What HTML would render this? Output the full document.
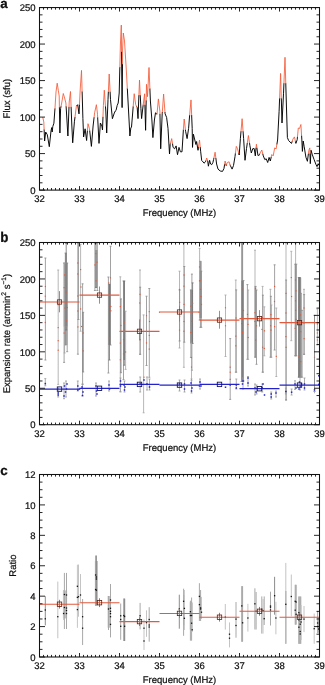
<!DOCTYPE html>
<html><head><meta charset="utf-8"><title>Figure</title>
<style>html,body{margin:0;padding:0;background:#fff;}svg{display:block;}text{stroke:#111;stroke-width:0.22px;}</style>
</head><body>
<svg width="325" height="685" viewBox="0 0 325 685" font-family='"Liberation Sans", Arial, Helvetica, sans-serif' font-size="9.5" fill="#111" text-rendering="geometricPrecision">
<text x="0.3" y="7.6" font-weight="bold" font-size="13.4">a</text>
<text transform="translate(0.3 241.8) scale(1 1.06)" font-weight="bold" font-size="13.4">b</text>
<text x="0.3" y="474.8" font-weight="bold" font-size="13.4">c</text>
<polyline points="44.11,129.41 44.6,141 45.7,132 47.3,134.7 49.3,146.7 51,131 51.7,127.6 52.2,132 52.8,126.5 53.9,123.2 54.97,108.41" fill="none" stroke="#000" stroke-width="0.95" stroke-linejoin="round" />
<polyline points="59.41,107.1 59.9,133 60.6,108.6 61.06,106.25" fill="none" stroke="#000" stroke-width="0.95" stroke-linejoin="round" />
<polyline points="66.1,106.25 67.9,136 69.01,106.89" fill="none" stroke="#000" stroke-width="0.95" stroke-linejoin="round" />
<polyline points="71.1,106.89 71.8,125 72.7,142.8 74.4,121.8 75,117.04" fill="none" stroke="#000" stroke-width="0.95" stroke-linejoin="round" />
<polyline points="76.4,106 77.7,104.7 79,113.9 79.47,104.44" fill="none" stroke="#000" stroke-width="0.95" stroke-linejoin="round" />
<polyline points="82.11,91.43 82.9,118.6 83.6,137 85.1,128.8 86.6,140.5 87.43,130.51" fill="none" stroke="#000" stroke-width="0.95" stroke-linejoin="round" />
<polyline points="89.68,130.51 91.4,146.4 93.1,126 94.1,117.21" fill="none" stroke="#000" stroke-width="0.95" stroke-linejoin="round" />
<polyline points="97.65,117.21 99,143.4 100.4,123 101.9,126 102.5,130 102.98,116.87" fill="none" stroke="#000" stroke-width="0.95" stroke-linejoin="round" />
<polyline points="105.45,106.16 105.8,111 106.7,133 108,99.7 108.37,91.7" fill="none" stroke="#000" stroke-width="0.95" stroke-linejoin="round" />
<polyline points="110.1,91.7 110.5,99.7 112.4,118.7 114.3,113 115.3,111 116,110.5 117.2,105.4 118.2,103 119.2,93 119.85,67.11" fill="none" stroke="#000" stroke-width="0.95" stroke-linejoin="round" />
<polyline points="121.56,51.47 122.1,107.6 122.47,63.9" fill="none" stroke="#000" stroke-width="0.95" stroke-linejoin="round" />
<polyline points="127.32,88.4 128.4,108 129.9,136 130.8,128 131.5,127 132.5,115 133.19,106.39" fill="none" stroke="#000" stroke-width="0.95" stroke-linejoin="round" />
<polyline points="136.57,106.39 137.2,107.6 138,118.6 138.91,95.09" fill="none" stroke="#000" stroke-width="0.95" stroke-linejoin="round" />
<polyline points="140.24,95.09 140.9,108.4 141.6,118.6 143.1,105.5 143.2,104.75" fill="none" stroke="#000" stroke-width="0.95" stroke-linejoin="round" />
<polyline points="144.9,104.75 145.6,130.3 146.19,100.29" fill="none" stroke="#000" stroke-width="0.95" stroke-linejoin="round" />
<polyline points="149.88,88.53 150.4,101 151.9,120 152.9,137.6 154.4,120 155.5,112.8 157,114.2 157.03,113.87" fill="none" stroke="#000" stroke-width="0.95" stroke-linejoin="round" />
<polyline points="159.95,113.87 160.7,148.8 162.2,113.8 162.33,112" fill="none" stroke="#000" stroke-width="0.95" stroke-linejoin="round" />
<polyline points="164.96,112 165.1,113.8 166.6,117.4 168,128.4 169.5,154 170.2,144.5 170.47,143.43" fill="none" stroke="#000" stroke-width="0.95" stroke-linejoin="round" />
<polyline points="172.47,143.43 173.1,147.4 174.6,148.8 176.1,145.9 177.5,154.7 179,147.4 180.4,151.8 182,151.8 183.39,129.71" fill="none" stroke="#000" stroke-width="0.95" stroke-linejoin="round" />
<polyline points="185.42,129.71 185.6,131.3 187.1,138.6 188.6,128.4 189.67,115.02" fill="none" stroke="#000" stroke-width="0.95" stroke-linejoin="round" />
<polyline points="191.64,115.02 192.2,128.4 192.5,147.4 193.4,134.2 194.8,140 195.9,144.5 196.6,141.5 198,150.3 198.49,146.96" fill="none" stroke="#000" stroke-width="0.95" stroke-linejoin="round" />
<polyline points="200.21,146.96 200.7,151.8 201.7,160.5 203.2,162 204,163.2 205.5,161.8 205.92,160.46" fill="none" stroke="#000" stroke-width="0.95" stroke-linejoin="round" />
<polyline points="207.52,160.46 207.7,161 208.4,166.2 209.6,160.3 210.6,164 211.7,164.7 212.9,162.5 213.6,159.5 213.92,157.96" fill="none" stroke="#000" stroke-width="0.95" stroke-linejoin="round" />
<polyline points="215.83,157.96 216.6,164 218,169.1 220.2,171 222.5,171.4 224,168.4 224.64,164.12" fill="none" stroke="#000" stroke-width="0.95" stroke-linejoin="round" />
<polyline points="225.86,164.12 226.2,165.5 226.5,164.68" fill="none" stroke="#000" stroke-width="0.95" stroke-linejoin="round" />
<polyline points="230.03,164.68 230.3,165.5 232.1,169.1 233.5,165.5 235,156.6 235.43,153.21" fill="none" stroke="#000" stroke-width="0.95" stroke-linejoin="round" />
<polyline points="238.72,153.21 239.2,155 240.4,138.4 241.02,131.18" fill="none" stroke="#000" stroke-width="0.95" stroke-linejoin="round" />
<polyline points="243.05,131.18 243.6,138.4 245,160.3 246.5,148.6 247.32,142.94" fill="none" stroke="#000" stroke-width="0.95" stroke-linejoin="round" />
<polyline points="249.49,142.94 249.9,145.7 251.3,153 252.8,148.6 254.2,148.6 255.3,155.9 256.07,147.71" fill="none" stroke="#000" stroke-width="0.95" stroke-linejoin="round" />
<polyline points="256.88,147.71 257.9,155.2 258.6,155.9 259.71,153.75" fill="none" stroke="#000" stroke-width="0.95" stroke-linejoin="round" />
<polyline points="262.75,153.75 263.3,155.9 264.8,159.6 266.2,158.8 267.7,162.5 269.1,157.4 270.3,161 271.25,156.9" fill="none" stroke="#000" stroke-width="0.95" stroke-linejoin="round" />
<polyline points="276.85,144.5 277.6,140 279.1,111.3 279.62,98.15" fill="none" stroke="#000" stroke-width="0.95" stroke-linejoin="round" />
<polyline points="281.3,98.15 282,123 283.5,93.8 283.94,83.13" fill="none" stroke="#000" stroke-width="0.95" stroke-linejoin="round" />
<polyline points="285.76,83.13 286.4,105 287.4,137.6 288.6,140.5 290,142 291.5,143.4 292.23,141.25" fill="none" stroke="#000" stroke-width="0.95" stroke-linejoin="round" />
<polyline points="295.4,141.25 295.9,143.4 297.2,139.7 297.48,136.76" fill="none" stroke="#000" stroke-width="0.95" stroke-linejoin="round" />
<polyline points="301.58,135.54 301.8,139.1 302.4,151.4 303.2,141 304.2,146.7 305.9,157.2 307.4,161.3 308.45,153.51" fill="none" stroke="#000" stroke-width="0.95" stroke-linejoin="round" />
<polyline points="309.98,153.51 310.3,163.7 311,150.2 312.4,154.9 314.1,159.6 315.9,164.3 317,166.6 318.2,163.7 318.8,165.4" fill="none" stroke="#000" stroke-width="0.95" stroke-linejoin="round" />
<polyline points="42.8,117.4 43.8,122 44.11,129.41" fill="none" stroke="#f45a38" stroke-width="0.85" stroke-linejoin="round" stroke-linecap="round"/>
<polyline points="54.97,108.41 55,108 56,92 57.2,83.2 58.3,90.3 59.2,96 59.41,107.1" fill="none" stroke="#f45a38" stroke-width="0.85" stroke-linejoin="round" stroke-linecap="round"/>
<polyline points="61.06,106.25 61.7,103 63.3,93.5 64.6,98 65.9,103 66.1,106.25" fill="none" stroke="#f45a38" stroke-width="0.85" stroke-linejoin="round" stroke-linecap="round"/>
<polyline points="69.01,106.89 69.2,102 70.5,91.5 71.1,106.89" fill="none" stroke="#f45a38" stroke-width="0.85" stroke-linejoin="round" stroke-linecap="round"/>
<polyline points="75,117.04 76.4,106" fill="none" stroke="#f45a38" stroke-width="0.85" stroke-linejoin="round" stroke-linecap="round"/>
<polyline points="79.47,104.44 80.3,88 81.5,70.4 82.11,91.43" fill="none" stroke="#f45a38" stroke-width="0.85" stroke-linejoin="round" stroke-linecap="round"/>
<polyline points="87.43,130.51 88,123.7 89.5,128.8 89.68,130.51" fill="none" stroke="#f45a38" stroke-width="0.85" stroke-linejoin="round" stroke-linecap="round"/>
<polyline points="94.1,117.21 94.6,112.8 96.4,104.7 97.5,114.2 97.65,117.21" fill="none" stroke="#f45a38" stroke-width="0.85" stroke-linejoin="round" stroke-linecap="round"/>
<polyline points="102.98,116.87 103.4,105.5 104.3,90.2 105.45,106.16" fill="none" stroke="#f45a38" stroke-width="0.85" stroke-linejoin="round" stroke-linecap="round"/>
<polyline points="108.37,91.7 109.2,74 110.1,91.7" fill="none" stroke="#f45a38" stroke-width="0.85" stroke-linejoin="round" stroke-linecap="round"/>
<polyline points="119.85,67.11 120.4,45 121.3,25.1 121.56,51.47" fill="none" stroke="#f45a38" stroke-width="0.85" stroke-linejoin="round" stroke-linecap="round"/>
<polyline points="122.47,63.9 122.6,49 123.3,33 124.5,41 126.2,68 127.32,88.4" fill="none" stroke="#f45a38" stroke-width="0.85" stroke-linejoin="round" stroke-linecap="round"/>
<polyline points="133.19,106.39 134.2,93.7 135.7,104.7 136.57,106.39" fill="none" stroke="#f45a38" stroke-width="0.85" stroke-linejoin="round" stroke-linecap="round"/>
<polyline points="138.91,95.09 139.5,80 140.24,95.09" fill="none" stroke="#f45a38" stroke-width="0.85" stroke-linejoin="round" stroke-linecap="round"/>
<polyline points="143.2,104.75 144.6,93.8 144.9,104.75" fill="none" stroke="#f45a38" stroke-width="0.85" stroke-linejoin="round" stroke-linecap="round"/>
<polyline points="146.19,100.29 146.5,84.3 147.5,96.7 149,67.5 149.88,88.53" fill="none" stroke="#f45a38" stroke-width="0.85" stroke-linejoin="round" stroke-linecap="round"/>
<polyline points="157.03,113.87 158.4,98.9 159.9,111.3 159.95,113.87" fill="none" stroke="#f45a38" stroke-width="0.85" stroke-linejoin="round" stroke-linecap="round"/>
<polyline points="162.33,112 163.6,94 164.96,112" fill="none" stroke="#f45a38" stroke-width="0.85" stroke-linejoin="round" stroke-linecap="round"/>
<polyline points="170.47,143.43 171.7,138.6 172.47,143.43" fill="none" stroke="#f45a38" stroke-width="0.85" stroke-linejoin="round" stroke-linecap="round"/>
<polyline points="183.39,129.71 183.5,128 184.2,119 185.42,129.71" fill="none" stroke="#f45a38" stroke-width="0.85" stroke-linejoin="round" stroke-linecap="round"/>
<polyline points="189.67,115.02 190,110.9 191,99.9 191.64,115.02" fill="none" stroke="#f45a38" stroke-width="0.85" stroke-linejoin="round" stroke-linecap="round"/>
<polyline points="198.49,146.96 199.5,140 200.21,146.96" fill="none" stroke="#f45a38" stroke-width="0.85" stroke-linejoin="round" stroke-linecap="round"/>
<polyline points="205.92,160.46 206.7,158 207.52,160.46" fill="none" stroke="#f45a38" stroke-width="0.85" stroke-linejoin="round" stroke-linecap="round"/>
<polyline points="213.92,157.96 215.1,152.2 215.83,157.96" fill="none" stroke="#f45a38" stroke-width="0.85" stroke-linejoin="round" stroke-linecap="round"/>
<polyline points="224.64,164.12 225.1,161 225.86,164.12" fill="none" stroke="#f45a38" stroke-width="0.85" stroke-linejoin="round" stroke-linecap="round"/>
<polyline points="226.5,164.68 227.3,162.5 229.1,161.8 230.03,164.68" fill="none" stroke="#f45a38" stroke-width="0.85" stroke-linejoin="round" stroke-linecap="round"/>
<polyline points="235.43,153.21 236.3,146.4 237.5,148.6 238.72,153.21" fill="none" stroke="#f45a38" stroke-width="0.85" stroke-linejoin="round" stroke-linecap="round"/>
<polyline points="241.02,131.18 242.1,118.7 243.05,131.18" fill="none" stroke="#f45a38" stroke-width="0.85" stroke-linejoin="round" stroke-linecap="round"/>
<polyline points="247.32,142.94 248.4,135.5 249.49,142.94" fill="none" stroke="#f45a38" stroke-width="0.85" stroke-linejoin="round" stroke-linecap="round"/>
<polyline points="256.07,147.71 256.4,144.2 256.88,147.71" fill="none" stroke="#f45a38" stroke-width="0.85" stroke-linejoin="round" stroke-linecap="round"/>
<polyline points="259.71,153.75 260.1,153 261.8,150 262.75,153.75" fill="none" stroke="#f45a38" stroke-width="0.85" stroke-linejoin="round" stroke-linecap="round"/>
<polyline points="271.25,156.9 271.8,154.5 273.2,155.9 274.7,147.9 276.1,149 276.85,144.5" fill="none" stroke="#f45a38" stroke-width="0.85" stroke-linejoin="round" stroke-linecap="round"/>
<polyline points="279.62,98.15 280.6,73.4 281.3,98.15" fill="none" stroke="#f45a38" stroke-width="0.85" stroke-linejoin="round" stroke-linecap="round"/>
<polyline points="283.94,83.13 285,57.3 285.76,83.13" fill="none" stroke="#f45a38" stroke-width="0.85" stroke-linejoin="round" stroke-linecap="round"/>
<polyline points="292.23,141.25 293,139 294.4,136.9 295.4,141.25" fill="none" stroke="#f45a38" stroke-width="0.85" stroke-linejoin="round" stroke-linecap="round"/>
<polyline points="297.48,136.76 298.3,128 299.5,128.6 300.9,124.5 301.58,135.54" fill="none" stroke="#f45a38" stroke-width="0.85" stroke-linejoin="round" stroke-linecap="round"/>
<polyline points="308.45,153.51 308.9,150.2 309.8,147.9 309.98,153.51" fill="none" stroke="#f45a38" stroke-width="0.85" stroke-linejoin="round" stroke-linecap="round"/>
<path d="M39.5 190.1v-4M39.5 7.55v4M43.5 190.1v-2.1M43.5 7.55v2.1M47.5 190.1v-2.1M47.5 7.55v2.1M51.5 190.1v-2.1M51.5 7.55v2.1M55.5 190.1v-2.1M55.5 7.55v2.1M59.5 190.1v-2.1M59.5 7.55v2.1M63.5 190.1v-2.1M63.5 7.55v2.1M67.5 190.1v-2.1M67.5 7.55v2.1M71.5 190.1v-2.1M71.5 7.55v2.1M75.5 190.1v-2.1M75.5 7.55v2.1M79.5 190.1v-4M79.5 7.55v4M83.5 190.1v-2.1M83.5 7.55v2.1M87.5 190.1v-2.1M87.5 7.55v2.1M91.5 190.1v-2.1M91.5 7.55v2.1M95.5 190.1v-2.1M95.5 7.55v2.1M99.5 190.1v-2.1M99.5 7.55v2.1M103.5 190.1v-2.1M103.5 7.55v2.1M107.5 190.1v-2.1M107.5 7.55v2.1M111.5 190.1v-2.1M111.5 7.55v2.1M115.5 190.1v-2.1M115.5 7.55v2.1M119.5 190.1v-4M119.5 7.55v4M123.5 190.1v-2.1M123.5 7.55v2.1M127.5 190.1v-2.1M127.5 7.55v2.1M131.5 190.1v-2.1M131.5 7.55v2.1M135.5 190.1v-2.1M135.5 7.55v2.1M139.5 190.1v-2.1M139.5 7.55v2.1M143.5 190.1v-2.1M143.5 7.55v2.1M147.5 190.1v-2.1M147.5 7.55v2.1M151.5 190.1v-2.1M151.5 7.55v2.1M155.5 190.1v-2.1M155.5 7.55v2.1M159.5 190.1v-4M159.5 7.55v4M163.5 190.1v-2.1M163.5 7.55v2.1M167.5 190.1v-2.1M167.5 7.55v2.1M171.5 190.1v-2.1M171.5 7.55v2.1M175.5 190.1v-2.1M175.5 7.55v2.1M179.5 190.1v-2.1M179.5 7.55v2.1M183.5 190.1v-2.1M183.5 7.55v2.1M187.5 190.1v-2.1M187.5 7.55v2.1M191.5 190.1v-2.1M191.5 7.55v2.1M195.5 190.1v-2.1M195.5 7.55v2.1M199.5 190.1v-4M199.5 7.55v4M203.5 190.1v-2.1M203.5 7.55v2.1M207.5 190.1v-2.1M207.5 7.55v2.1M211.5 190.1v-2.1M211.5 7.55v2.1M215.5 190.1v-2.1M215.5 7.55v2.1M219.5 190.1v-2.1M219.5 7.55v2.1M223.5 190.1v-2.1M223.5 7.55v2.1M227.5 190.1v-2.1M227.5 7.55v2.1M231.5 190.1v-2.1M231.5 7.55v2.1M235.5 190.1v-2.1M235.5 7.55v2.1M239.5 190.1v-4M239.5 7.55v4M243.5 190.1v-2.1M243.5 7.55v2.1M247.5 190.1v-2.1M247.5 7.55v2.1M251.5 190.1v-2.1M251.5 7.55v2.1M255.5 190.1v-2.1M255.5 7.55v2.1M259.5 190.1v-2.1M259.5 7.55v2.1M263.5 190.1v-2.1M263.5 7.55v2.1M267.5 190.1v-2.1M267.5 7.55v2.1M271.5 190.1v-2.1M271.5 7.55v2.1M275.5 190.1v-2.1M275.5 7.55v2.1M279.5 190.1v-4M279.5 7.55v4M283.5 190.1v-2.1M283.5 7.55v2.1M287.5 190.1v-2.1M287.5 7.55v2.1M291.5 190.1v-2.1M291.5 7.55v2.1M295.5 190.1v-2.1M295.5 7.55v2.1M299.5 190.1v-2.1M299.5 7.55v2.1M303.5 190.1v-2.1M303.5 7.55v2.1M307.5 190.1v-2.1M307.5 7.55v2.1M311.5 190.1v-2.1M311.5 7.55v2.1M315.5 190.1v-2.1M315.5 7.55v2.1M319.5 190.1v-4M319.5 7.55v4M39.5 190.1h5.5M319.5 190.1h-5.5M39.5 182.8h3M319.5 182.8h-3M39.5 175.5h3M319.5 175.5h-3M39.5 168.19h3M319.5 168.19h-3M39.5 160.89h3M319.5 160.89h-3M39.5 153.59h5.5M319.5 153.59h-5.5M39.5 146.29h3M319.5 146.29h-3M39.5 138.99h3M319.5 138.99h-3M39.5 131.68h3M319.5 131.68h-3M39.5 124.38h3M319.5 124.38h-3M39.5 117.08h5.5M319.5 117.08h-5.5M39.5 109.78h3M319.5 109.78h-3M39.5 102.48h3M319.5 102.48h-3M39.5 95.17h3M319.5 95.17h-3M39.5 87.87h3M319.5 87.87h-3M39.5 80.57h5.5M319.5 80.57h-5.5M39.5 73.27h3M319.5 73.27h-3M39.5 65.97h3M319.5 65.97h-3M39.5 58.66h3M319.5 58.66h-3M39.5 51.36h3M319.5 51.36h-3M39.5 44.06h5.5M319.5 44.06h-5.5M39.5 36.76h3M319.5 36.76h-3M39.5 29.46h3M319.5 29.46h-3M39.5 22.15h3M319.5 22.15h-3M39.5 14.85h3M319.5 14.85h-3M39.5 7.55h5.5M319.5 7.55h-5.5" stroke="#111" stroke-width="0.9" fill="none"/>
<rect x="39.5" y="7.55" width="280" height="182.55" fill="none" stroke="#111" stroke-width="1.05"/>
<text transform="translate(35.6 193.8) scale(1 1.02)" text-anchor="end">0</text>
<text transform="translate(35.6 157.29) scale(1 1.02)" text-anchor="end">50</text>
<text transform="translate(35.6 120.78) scale(1 1.02)" text-anchor="end">100</text>
<text transform="translate(35.6 84.27) scale(1 1.02)" text-anchor="end">150</text>
<text transform="translate(35.6 47.76) scale(1 1.02)" text-anchor="end">200</text>
<text transform="translate(35.6 11.25) scale(1 1.02)" text-anchor="end">250</text>
<text transform="translate(39.5 202) scale(1 1.02)" text-anchor="middle">32</text>
<text transform="translate(79.5 202) scale(1 1.02)" text-anchor="middle">33</text>
<text transform="translate(119.5 202) scale(1 1.02)" text-anchor="middle">34</text>
<text transform="translate(159.5 202) scale(1 1.02)" text-anchor="middle">35</text>
<text transform="translate(199.5 202) scale(1 1.02)" text-anchor="middle">36</text>
<text transform="translate(239.5 202) scale(1 1.02)" text-anchor="middle">37</text>
<text transform="translate(279.5 202) scale(1 1.02)" text-anchor="middle">38</text>
<text transform="translate(319.5 202) scale(1 1.02)" text-anchor="middle">39</text>
<text transform="translate(179.5 215.9) scale(1 1.02)" text-anchor="middle">Frequency (MHz)</text>
<text transform="translate(9.5 98.6) rotate(-90) scale(1 1.02)" text-anchor="middle">Flux (sfu)</text>
<rect x="63.8" y="263" width="3.8" height="63.6" fill="#9c9c9c"/>
<rect x="64.2" y="326.6" width="3.2" height="18.4" fill="#aeaeae"/>
<rect x="82" y="312" width="1.4" height="60" fill="#a8a8a8"/>
<rect x="64.8" y="253" width="2.2" height="10" fill="#aeaeae"/>
<rect x="95.2" y="250" width="2.4" height="38" fill="#b2b2b2"/>
<rect x="108.2" y="284.3" width="2.7" height="60.7" fill="#989898"/>
<rect x="123.1" y="281" width="1.9" height="79" fill="#989898"/>
<rect x="120.2" y="298.9" width="1.1" height="73.8" fill="#aeaeae"/>
<rect x="190.2" y="289.9" width="2.8" height="53.5" fill="#949494"/>
<rect x="199.2" y="261.3" width="2.7" height="56.7" fill="#b6b6b6"/>
<rect x="199.4" y="271.2" width="2.2" height="46.8" fill="#9e9e9e"/>
<rect x="241" y="280.6" width="2.6" height="100.4" fill="#a8a8a8"/>
<rect x="254.4" y="286.4" width="1.8" height="70.8" fill="#b2b2b2"/>
<rect x="294.9" y="264.2" width="1.5" height="91.6" fill="#a8a8a8"/>
<rect x="298.2" y="277.6" width="3" height="99.6" fill="#989898"/>
<rect x="298.2" y="293.4" width="3.4" height="83.8" fill="#9e9e9e"/>
<path d="M45.4 258V360M44.4 258h2M44.4 360h2" stroke="#8a8a8a" stroke-width="0.8"/>
<path d="M58.2 270V384.4M57.2 270h2M57.2 384.4h2" stroke="#a4a4a4" stroke-width="0.8"/>
<path d="M64.1 263V362.4M63.1 263h2M63.1 362.4h2" stroke="#8a8a8a" stroke-width="0.8"/>
<path d="M65.6 253V345M64.6 253h2M64.6 345h2" stroke="#8a8a8a" stroke-width="0.8"/>
<path d="M66.2 243.5V330M65.2 243.5h2M65.2 330h2" stroke="#707070" stroke-width="0.8"/>
<path d="M67.2 263V351.7M66.2 263h2M66.2 351.7h2" stroke="#8a8a8a" stroke-width="0.8"/>
<path d="M64.6 263V353M63.6 263h2M63.6 353h2" stroke="#a4a4a4" stroke-width="0.8"/>
<path d="M77.9 243V354.2M76.9 243h2M76.9 354.2h2" stroke="#8a8a8a" stroke-width="0.8"/>
<path d="M78.4 243V319.5M77.4 243h2M77.4 319.5h2" stroke="#8a8a8a" stroke-width="0.8"/>
<path d="M80.6 244.4V331.2M79.6 244.4h2M79.6 331.2h2" stroke="#a4a4a4" stroke-width="0.8"/>
<path d="M82.6 283.8V384.4M81.6 283.8h2M81.6 384.4h2" stroke="#8a8a8a" stroke-width="0.8"/>
<path d="M83.2 312.3V372M82.2 312.3h2M82.2 372h2" stroke="#8a8a8a" stroke-width="0.8"/>
<path d="M94.9 243V290.5M93.9 243h2M93.9 290.5h2" stroke="#8a8a8a" stroke-width="0.8"/>
<path d="M96 243V287.4M95 243h2M95 287.4h2" stroke="#707070" stroke-width="0.8"/>
<path d="M97.3 243V290.5M96.3 243h2M96.3 290.5h2" stroke="#8a8a8a" stroke-width="0.8"/>
<path d="M108.4 277V373M107.4 277h2M107.4 373h2" stroke="#8a8a8a" stroke-width="0.8"/>
<path d="M109.5 284.3V360M108.5 284.3h2M108.5 360h2" stroke="#707070" stroke-width="0.8"/>
<path d="M110.5 246.2V345M109.5 246.2h2M109.5 345h2" stroke="#8a8a8a" stroke-width="0.8"/>
<path d="M120.3 276.8V391.5M119.3 276.8h2M119.3 391.5h2" stroke="#a4a4a4" stroke-width="0.8"/>
<path d="M120.9 298.9V372.7M119.9 298.9h2M119.9 372.7h2" stroke="#8a8a8a" stroke-width="0.8"/>
<path d="M123.5 281V379.6M122.5 281h2M122.5 379.6h2" stroke="#8a8a8a" stroke-width="0.8"/>
<path d="M124.3 281V365.2M123.3 281h2M123.3 365.2h2" stroke="#707070" stroke-width="0.8"/>
<path d="M125.6 311.2V369.4M124.6 311.2h2M124.6 369.4h2" stroke="#a4a4a4" stroke-width="0.8"/>
<path d="M140 270V354.3M139 270h2M139 354.3h2" stroke="#a4a4a4" stroke-width="0.8"/>
<path d="M140.2 287.2V354.3M139.2 287.2h2M139.2 354.3h2" stroke="#8a8a8a" stroke-width="0.8"/>
<path d="M143.6 314.9V412.8M142.6 314.9h2M142.6 412.8h2" stroke="#a4a4a4" stroke-width="0.8"/>
<path d="M146.5 296.2V365.5M145.5 296.2h2M145.5 365.5h2" stroke="#8a8a8a" stroke-width="0.8"/>
<path d="M149.3 288.5V377.3M148.3 288.5h2M148.3 377.3h2" stroke="#8a8a8a" stroke-width="0.8"/>
<path d="M179.5 271.2V348M178.5 271.2h2M178.5 348h2" stroke="#a4a4a4" stroke-width="0.8"/>
<path d="M179.6 290V341M178.6 290h2M178.6 341h2" stroke="#8a8a8a" stroke-width="0.8"/>
<path d="M183.9 243V367.3M182.9 243h2M182.9 367.3h2" stroke="#a4a4a4" stroke-width="0.8"/>
<path d="M184.3 266.5V342.2M183.3 266.5h2M183.3 342.2h2" stroke="#8a8a8a" stroke-width="0.8"/>
<path d="M190.9 289.9V357.4M189.9 289.9h2M189.9 357.4h2" stroke="#8a8a8a" stroke-width="0.8"/>
<path d="M191.9 274.1V370.2M190.9 274.1h2M190.9 370.2h2" stroke="#8a8a8a" stroke-width="0.8"/>
<path d="M192.6 282.9V343.4M191.6 282.9h2M191.6 343.4h2" stroke="#707070" stroke-width="0.8"/>
<path d="M191.5 343V380.7M190.5 343h2M190.5 380.7h2" stroke="#a4a4a4" stroke-width="0.8"/>
<path d="M199.6 248.4V320M198.6 248.4h2M198.6 320h2" stroke="#a4a4a4" stroke-width="0.8"/>
<path d="M200.4 261.3V327.3M199.4 261.3h2M199.4 327.3h2" stroke="#8a8a8a" stroke-width="0.8"/>
<path d="M201.3 271.2V327.3M200.3 271.2h2M200.3 327.3h2" stroke="#8a8a8a" stroke-width="0.8"/>
<path d="M225.5 295V356.5M224.5 295h2M224.5 356.5h2" stroke="#a4a4a4" stroke-width="0.8"/>
<path d="M230.2 338.6V399.4M229.2 338.6h2M229.2 399.4h2" stroke="#8a8a8a" stroke-width="0.8"/>
<path d="M235.8 280V372.2M234.8 280h2M234.8 372.2h2" stroke="#a4a4a4" stroke-width="0.8"/>
<path d="M236.2 289.9V372.2M235.2 289.9h2M235.2 372.2h2" stroke="#8a8a8a" stroke-width="0.8"/>
<path d="M241.6 243.8V381.5M240.6 243.8h2M240.6 381.5h2" stroke="#8a8a8a" stroke-width="0.8"/>
<path d="M242.6 243.8V381.5M241.6 243.8h2M241.6 381.5h2" stroke="#707070" stroke-width="0.8"/>
<path d="M243.5 280.6V381M242.5 280.6h2M242.5 381h2" stroke="#8a8a8a" stroke-width="0.8"/>
<path d="M247.4 284.6V359.3M246.4 284.6h2M246.4 359.3h2" stroke="#8a8a8a" stroke-width="0.8"/>
<path d="M248.2 290V359.3M247.2 290h2M247.2 359.3h2" stroke="#a4a4a4" stroke-width="0.8"/>
<path d="M255 250.2V357.2M254 250.2h2M254 357.2h2" stroke="#a4a4a4" stroke-width="0.8"/>
<path d="M255.6 286.4V357.2M254.6 286.4h2M254.6 357.2h2" stroke="#8a8a8a" stroke-width="0.8"/>
<path d="M256.5 290V364.3M255.5 290h2M255.5 364.3h2" stroke="#8a8a8a" stroke-width="0.8"/>
<path d="M262.6 286.4V372.2M261.6 286.4h2M261.6 372.2h2" stroke="#a4a4a4" stroke-width="0.8"/>
<path d="M262.9 295.2V372.2M261.9 295.2h2M261.9 372.2h2" stroke="#8a8a8a" stroke-width="0.8"/>
<path d="M264.3 306.8V355.8M263.3 306.8h2M263.3 355.8h2" stroke="#a4a4a4" stroke-width="0.8"/>
<path d="M270.4 289.3V357.2M269.4 289.3h2M269.4 357.2h2" stroke="#a4a4a4" stroke-width="0.8"/>
<path d="M270.9 296.3V357.2M269.9 296.3h2M269.9 357.2h2" stroke="#8a8a8a" stroke-width="0.8"/>
<path d="M271.4 305V357.2M270.4 305h2M270.4 357.2h2" stroke="#a4a4a4" stroke-width="0.8"/>
<path d="M274.6 264.8V350M273.6 264.8h2M273.6 350h2" stroke="#8a8a8a" stroke-width="0.8"/>
<path d="M276.3 308V376.5M275.3 308h2M275.3 376.5h2" stroke="#a4a4a4" stroke-width="0.8"/>
<path d="M286 243V400M285 243h2M285 400h2" stroke="#a4a4a4" stroke-width="0.8"/>
<path d="M286.1 280V400M285.1 280h2M285.1 400h2" stroke="#8a8a8a" stroke-width="0.8"/>
<path d="M291.3 251.3V340.7M290.3 251.3h2M290.3 340.7h2" stroke="#a4a4a4" stroke-width="0.8"/>
<path d="M295.6 243V355.8M294.6 243h2M294.6 355.8h2" stroke="#a4a4a4" stroke-width="0.8"/>
<path d="M295.2 264.2V355.8M294.2 264.2h2M294.2 355.8h2" stroke="#8a8a8a" stroke-width="0.8"/>
<path d="M296.3 264.2V355.8M295.3 264.2h2M295.3 355.8h2" stroke="#8a8a8a" stroke-width="0.8"/>
<path d="M298.8 277.6V377.2M297.8 277.6h2M297.8 377.2h2" stroke="#707070" stroke-width="0.8"/>
<path d="M299.8 277.6V377.2M298.8 277.6h2M298.8 377.2h2" stroke="#707070" stroke-width="0.8"/>
<path d="M300.8 293.4V377.2M299.8 293.4h2M299.8 377.2h2" stroke="#8a8a8a" stroke-width="0.8"/>
<path d="M302.1 310.3V377.2M301.1 310.3h2M301.1 377.2h2" stroke="#8a8a8a" stroke-width="0.8"/>
<path d="M304 289.3V354.3M303 289.3h2M303 354.3h2" stroke="#a4a4a4" stroke-width="0.8"/>
<path d="M304.1 294.6V354.3M303.1 294.6h2M303.1 354.3h2" stroke="#8a8a8a" stroke-width="0.8"/>
<path d="M314.5 315.4V391.5M313.5 315.4h2M313.5 391.5h2" stroke="#707070" stroke-width="0.8"/>
<path d="M317.4 309V345M316.4 309h2M316.4 345h2" stroke="#a4a4a4" stroke-width="0.8"/>
<path d="M45.3 378.6V385.8M44.3 378.6h2M44.3 385.8h2" stroke="#9a9a9a" stroke-width="0.8"/>
<path d="M58.2 388V397M57.2 388h2M57.2 397h2" stroke="#9a9a9a" stroke-width="0.8"/>
<path d="M64 383V398.7M63 383h2M63 398.7h2" stroke="#9a9a9a" stroke-width="0.8"/>
<path d="M66 381V397M65 381h2M65 397h2" stroke="#9a9a9a" stroke-width="0.8"/>
<path d="M77.8 381V391M76.8 381h2M76.8 391h2" stroke="#9a9a9a" stroke-width="0.8"/>
<path d="M82.5 384V396M81.5 384h2M81.5 396h2" stroke="#9a9a9a" stroke-width="0.8"/>
<path d="M96 383V396M95 383h2M95 396h2" stroke="#9a9a9a" stroke-width="0.8"/>
<path d="M109 381V391M108 381h2M108 391h2" stroke="#9a9a9a" stroke-width="0.8"/>
<path d="M120.5 378V392M119.5 378h2M119.5 392h2" stroke="#9a9a9a" stroke-width="0.8"/>
<path d="M124.5 381V392M123.5 381h2M123.5 392h2" stroke="#9a9a9a" stroke-width="0.8"/>
<path d="M140.2 377V392M139.2 377h2M139.2 392h2" stroke="#9a9a9a" stroke-width="0.8"/>
<path d="M147 377V390M146 377h2M146 390h2" stroke="#9a9a9a" stroke-width="0.8"/>
<path d="M149.5 379V390M148.5 379h2M148.5 390h2" stroke="#9a9a9a" stroke-width="0.8"/>
<path d="M179.5 380V391M178.5 380h2M178.5 391h2" stroke="#9a9a9a" stroke-width="0.8"/>
<path d="M184.5 380V392M183.5 380h2M183.5 392h2" stroke="#9a9a9a" stroke-width="0.8"/>
<path d="M191.5 379V393M190.5 379h2M190.5 393h2" stroke="#9a9a9a" stroke-width="0.8"/>
<path d="M200 379V389M199 379h2M199 389h2" stroke="#9a9a9a" stroke-width="0.8"/>
<path d="M236.3 379V389M235.3 379h2M235.3 389h2" stroke="#9a9a9a" stroke-width="0.8"/>
<path d="M243 378V389M242 378h2M242 389h2" stroke="#9a9a9a" stroke-width="0.8"/>
<path d="M248 376.5V386M247 376.5h2M247 386h2" stroke="#9a9a9a" stroke-width="0.8"/>
<path d="M255 384V395M254 384h2M254 395h2" stroke="#9a9a9a" stroke-width="0.8"/>
<path d="M256.6 385V394M255.6 385h2M255.6 394h2" stroke="#9a9a9a" stroke-width="0.8"/>
<path d="M262.3 384V392M261.3 384h2M261.3 392h2" stroke="#9a9a9a" stroke-width="0.8"/>
<path d="M271.2 392V399M270.2 392h2M270.2 399h2" stroke="#9a9a9a" stroke-width="0.8"/>
<path d="M276 391V397M275 391h2M275 397h2" stroke="#9a9a9a" stroke-width="0.8"/>
<path d="M285.9 388V394M284.9 388h2M284.9 394h2" stroke="#9a9a9a" stroke-width="0.8"/>
<path d="M291.6 389V395M290.6 389h2M290.6 395h2" stroke="#9a9a9a" stroke-width="0.8"/>
<path d="M295 380.8V389.4M294 380.8h2M294 389.4h2" stroke="#9a9a9a" stroke-width="0.8"/>
<path d="M300 377V390M299 377h2M299 390h2" stroke="#9a9a9a" stroke-width="0.8"/>
<path d="M304.5 378V390M303.5 378h2M303.5 390h2" stroke="#9a9a9a" stroke-width="0.8"/>
<rect x="44.72" y="295.62" width="1.15" height="1.15" fill="#e05a3e"/>
<rect x="44.72" y="321.92" width="1.15" height="1.15" fill="#e05a3e"/>
<rect x="57.62" y="340.12" width="1.15" height="1.15" fill="#e05a3e"/>
<rect x="63.92" y="274.42" width="1.15" height="1.15" fill="#e05a3e"/>
<rect x="65.42" y="291.42" width="1.15" height="1.15" fill="#e05a3e"/>
<rect x="64.42" y="307.42" width="1.15" height="1.15" fill="#e05a3e"/>
<rect x="65.92" y="320.42" width="1.15" height="1.15" fill="#e05a3e"/>
<rect x="77.22" y="262.42" width="1.15" height="1.15" fill="#e05a3e"/>
<rect x="77.22" y="273.42" width="1.15" height="1.15" fill="#e05a3e"/>
<rect x="77.22" y="295.42" width="1.15" height="1.15" fill="#e05a3e"/>
<rect x="77.22" y="310.42" width="1.15" height="1.15" fill="#e05a3e"/>
<rect x="80.42" y="286.42" width="1.15" height="1.15" fill="#e05a3e"/>
<rect x="81.02" y="325.92" width="1.15" height="1.15" fill="#e05a3e"/>
<rect x="95.32" y="253.02" width="1.15" height="1.15" fill="#e05a3e"/>
<rect x="96.42" y="261.62" width="1.15" height="1.15" fill="#e05a3e"/>
<rect x="108.22" y="282.42" width="1.15" height="1.15" fill="#e05a3e"/>
<rect x="110.32" y="305.92" width="1.15" height="1.15" fill="#e05a3e"/>
<rect x="110.32" y="310.22" width="1.15" height="1.15" fill="#e05a3e"/>
<rect x="108.92" y="320.42" width="1.15" height="1.15" fill="#e05a3e"/>
<rect x="139.12" y="302.42" width="1.15" height="1.15" fill="#e05a3e"/>
<rect x="139.12" y="319.42" width="1.15" height="1.15" fill="#e05a3e"/>
<rect x="148.92" y="320.92" width="1.15" height="1.15" fill="#e05a3e"/>
<rect x="143.42" y="376.62" width="1.15" height="1.15" fill="#e05a3e"/>
<rect x="158.92" y="311.62" width="1.15" height="1.15" fill="#e05a3e"/>
<rect x="183.42" y="274.42" width="1.15" height="1.15" fill="#e05a3e"/>
<rect x="183.42" y="303.82" width="1.15" height="1.15" fill="#e05a3e"/>
<rect x="183.42" y="320.92" width="1.15" height="1.15" fill="#e05a3e"/>
<rect x="198.92" y="280.22" width="1.15" height="1.15" fill="#e05a3e"/>
<rect x="198.92" y="266.42" width="1.15" height="1.15" fill="#e05a3e"/>
<rect x="199.42" y="280.22" width="1.15" height="1.15" fill="#e05a3e"/>
<rect x="199.92" y="288.82" width="1.15" height="1.15" fill="#e05a3e"/>
<rect x="200.42" y="295.92" width="1.15" height="1.15" fill="#e05a3e"/>
<rect x="200.92" y="303.82" width="1.15" height="1.15" fill="#e05a3e"/>
<rect x="198.42" y="311.62" width="1.15" height="1.15" fill="#e05a3e"/>
<rect x="224.92" y="325.22" width="1.15" height="1.15" fill="#e05a3e"/>
<rect x="229.62" y="366.62" width="1.15" height="1.15" fill="#e05a3e"/>
<rect x="229.62" y="371.62" width="1.15" height="1.15" fill="#e05a3e"/>
<rect x="229.62" y="378.82" width="1.15" height="1.15" fill="#e05a3e"/>
<rect x="235.42" y="317.42" width="1.15" height="1.15" fill="#e05a3e"/>
<rect x="241.92" y="288.82" width="1.15" height="1.15" fill="#e05a3e"/>
<rect x="241.92" y="331.72" width="1.15" height="1.15" fill="#e05a3e"/>
<rect x="246.92" y="313.82" width="1.15" height="1.15" fill="#e05a3e"/>
<rect x="247.42" y="323.82" width="1.15" height="1.15" fill="#e05a3e"/>
<rect x="254.92" y="288.02" width="1.15" height="1.15" fill="#e05a3e"/>
<rect x="254.32" y="320.92" width="1.15" height="1.15" fill="#e05a3e"/>
<rect x="256.02" y="325.22" width="1.15" height="1.15" fill="#e05a3e"/>
<rect x="261.42" y="328.82" width="1.15" height="1.15" fill="#e05a3e"/>
<rect x="263.92" y="330.22" width="1.15" height="1.15" fill="#e05a3e"/>
<rect x="270.02" y="325.22" width="1.15" height="1.15" fill="#e05a3e"/>
<rect x="270.42" y="329.52" width="1.15" height="1.15" fill="#e05a3e"/>
<rect x="273.92" y="300.92" width="1.15" height="1.15" fill="#e05a3e"/>
<rect x="285.32" y="312.42" width="1.15" height="1.15" fill="#e05a3e"/>
<rect x="285.32" y="336.02" width="1.15" height="1.15" fill="#e05a3e"/>
<rect x="291.02" y="295.92" width="1.15" height="1.15" fill="#e05a3e"/>
<rect x="294.92" y="279.42" width="1.15" height="1.15" fill="#e05a3e"/>
<rect x="295.42" y="290.22" width="1.15" height="1.15" fill="#e05a3e"/>
<rect x="294.92" y="300.22" width="1.15" height="1.15" fill="#e05a3e"/>
<rect x="295.42" y="318.82" width="1.15" height="1.15" fill="#e05a3e"/>
<rect x="298.72" y="306.42" width="1.15" height="1.15" fill="#e05a3e"/>
<rect x="299.92" y="314.42" width="1.15" height="1.15" fill="#e05a3e"/>
<rect x="298.92" y="327.42" width="1.15" height="1.15" fill="#e05a3e"/>
<rect x="300.22" y="331.02" width="1.15" height="1.15" fill="#e05a3e"/>
<rect x="316.82" y="332.42" width="1.15" height="1.15" fill="#e05a3e"/>
<rect x="316.82" y="339.42" width="1.15" height="1.15" fill="#e05a3e"/>
<rect x="44.82" y="285.91" width="1.15" height="1.15" fill="#e05a3e"/>
<rect x="57.62" y="304.17" width="1.15" height="1.15" fill="#e05a3e"/>
<rect x="57.62" y="327.04" width="1.15" height="1.15" fill="#e05a3e"/>
<rect x="57.62" y="349.67" width="1.15" height="1.15" fill="#e05a3e"/>
<rect x="63.52" y="287.08" width="1.15" height="1.15" fill="#e05a3e"/>
<rect x="63.52" y="332.46" width="1.15" height="1.15" fill="#e05a3e"/>
<rect x="66.62" y="306.94" width="1.15" height="1.15" fill="#e05a3e"/>
<rect x="77.32" y="326.39" width="1.15" height="1.15" fill="#e05a3e"/>
<rect x="80.02" y="268.99" width="1.15" height="1.15" fill="#e05a3e"/>
<rect x="80.02" y="308.36" width="1.15" height="1.15" fill="#e05a3e"/>
<rect x="82.62" y="332.38" width="1.15" height="1.15" fill="#e05a3e"/>
<rect x="82.62" y="350.32" width="1.15" height="1.15" fill="#e05a3e"/>
<rect x="94.32" y="264.37" width="1.15" height="1.15" fill="#e05a3e"/>
<rect x="95.42" y="280.23" width="1.15" height="1.15" fill="#e05a3e"/>
<rect x="108.92" y="337.91" width="1.15" height="1.15" fill="#e05a3e"/>
<rect x="109.92" y="277.28" width="1.15" height="1.15" fill="#e05a3e"/>
<rect x="119.72" y="306.04" width="1.15" height="1.15" fill="#e05a3e"/>
<rect x="119.72" y="342.52" width="1.15" height="1.15" fill="#e05a3e"/>
<rect x="119.72" y="359.22" width="1.15" height="1.15" fill="#e05a3e"/>
<rect x="120.32" y="324.92" width="1.15" height="1.15" fill="#e05a3e"/>
<rect x="122.92" y="339.02" width="1.15" height="1.15" fill="#e05a3e"/>
<rect x="122.92" y="353.35" width="1.15" height="1.15" fill="#e05a3e"/>
<rect x="123.72" y="322.54" width="1.15" height="1.15" fill="#e05a3e"/>
<rect x="125.02" y="351.42" width="1.15" height="1.15" fill="#e05a3e"/>
<rect x="139.42" y="293.74" width="1.15" height="1.15" fill="#e05a3e"/>
<rect x="139.62" y="339.06" width="1.15" height="1.15" fill="#e05a3e"/>
<rect x="145.92" y="315.12" width="1.15" height="1.15" fill="#e05a3e"/>
<rect x="145.92" y="342.34" width="1.15" height="1.15" fill="#e05a3e"/>
<rect x="148.72" y="311.07" width="1.15" height="1.15" fill="#e05a3e"/>
<rect x="148.72" y="334.84" width="1.15" height="1.15" fill="#e05a3e"/>
<rect x="148.72" y="348.52" width="1.15" height="1.15" fill="#e05a3e"/>
<rect x="178.92" y="288.88" width="1.15" height="1.15" fill="#e05a3e"/>
<rect x="178.92" y="329.59" width="1.15" height="1.15" fill="#e05a3e"/>
<rect x="179.02" y="301.75" width="1.15" height="1.15" fill="#e05a3e"/>
<rect x="179.02" y="315.84" width="1.15" height="1.15" fill="#e05a3e"/>
<rect x="183.32" y="285.63" width="1.15" height="1.15" fill="#e05a3e"/>
<rect x="183.32" y="330.68" width="1.15" height="1.15" fill="#e05a3e"/>
<rect x="190.32" y="305.51" width="1.15" height="1.15" fill="#e05a3e"/>
<rect x="190.32" y="331.86" width="1.15" height="1.15" fill="#e05a3e"/>
<rect x="191.32" y="320.7" width="1.15" height="1.15" fill="#e05a3e"/>
<rect x="192.02" y="302.82" width="1.15" height="1.15" fill="#e05a3e"/>
<rect x="190.92" y="356.99" width="1.15" height="1.15" fill="#e05a3e"/>
<rect x="190.92" y="366.5" width="1.15" height="1.15" fill="#e05a3e"/>
<rect x="224.92" y="307.22" width="1.15" height="1.15" fill="#e05a3e"/>
<rect x="235.22" y="335.59" width="1.15" height="1.15" fill="#e05a3e"/>
<rect x="235.22" y="345.22" width="1.15" height="1.15" fill="#e05a3e"/>
<rect x="241.02" y="323.04" width="1.15" height="1.15" fill="#e05a3e"/>
<rect x="242.92" y="309.88" width="1.15" height="1.15" fill="#e05a3e"/>
<rect x="247.62" y="336.92" width="1.15" height="1.15" fill="#e05a3e"/>
<rect x="254.42" y="312.15" width="1.15" height="1.15" fill="#e05a3e"/>
<rect x="255.02" y="339.5" width="1.15" height="1.15" fill="#e05a3e"/>
<rect x="262.02" y="316.76" width="1.15" height="1.15" fill="#e05a3e"/>
<rect x="262.02" y="346.7" width="1.15" height="1.15" fill="#e05a3e"/>
<rect x="263.72" y="318.03" width="1.15" height="1.15" fill="#e05a3e"/>
<rect x="263.72" y="347.89" width="1.15" height="1.15" fill="#e05a3e"/>
<rect x="270.32" y="314.01" width="1.15" height="1.15" fill="#e05a3e"/>
<rect x="274.02" y="285.85" width="1.15" height="1.15" fill="#e05a3e"/>
<rect x="274.02" y="326.03" width="1.15" height="1.15" fill="#e05a3e"/>
<rect x="275.72" y="355.78" width="1.15" height="1.15" fill="#e05a3e"/>
<rect x="285.42" y="292.79" width="1.15" height="1.15" fill="#e05a3e"/>
<rect x="285.52" y="346.77" width="1.15" height="1.15" fill="#e05a3e"/>
<rect x="290.72" y="276.97" width="1.15" height="1.15" fill="#e05a3e"/>
<rect x="295.02" y="309.77" width="1.15" height="1.15" fill="#e05a3e"/>
<rect x="294.62" y="327.78" width="1.15" height="1.15" fill="#e05a3e"/>
<rect x="298.22" y="356.48" width="1.15" height="1.15" fill="#e05a3e"/>
<rect x="300.22" y="361.1" width="1.15" height="1.15" fill="#e05a3e"/>
<rect x="303.42" y="307.4" width="1.15" height="1.15" fill="#e05a3e"/>
<rect x="303.42" y="322.54" width="1.15" height="1.15" fill="#e05a3e"/>
<rect x="303.52" y="338.08" width="1.15" height="1.15" fill="#e05a3e"/>
<rect x="313.92" y="356.82" width="1.15" height="1.15" fill="#e05a3e"/>
<rect x="316.82" y="323.48" width="1.15" height="1.15" fill="#e05a3e"/>
<path d="M314.5 386.08V393.28" stroke="#a0a0a0" stroke-width="0.8"/>
<rect x="44.55" y="382.85" width="1.5" height="1.5" fill="#2323c8"/>
<rect x="57.45" y="392.25" width="1.5" height="1.5" fill="#2323c8"/>
<rect x="57.45" y="394.25" width="1.5" height="1.5" fill="#2323c8"/>
<rect x="63.75" y="385.25" width="1.5" height="1.5" fill="#2323c8"/>
<rect x="64.75" y="391.25" width="1.5" height="1.5" fill="#2323c8"/>
<rect x="65.75" y="388.25" width="1.5" height="1.5" fill="#2323c8"/>
<rect x="63.25" y="395.25" width="1.5" height="1.5" fill="#2323c8"/>
<rect x="66.25" y="383.25" width="1.5" height="1.5" fill="#2323c8"/>
<rect x="77.05" y="385.25" width="1.5" height="1.5" fill="#2323c8"/>
<rect x="77.05" y="389.25" width="1.5" height="1.5" fill="#2323c8"/>
<rect x="81.25" y="386.25" width="1.5" height="1.5" fill="#2323c8"/>
<rect x="82.25" y="391.25" width="1.5" height="1.5" fill="#2323c8"/>
<rect x="81.75" y="394.75" width="1.5" height="1.5" fill="#2323c8"/>
<rect x="78.75" y="388.25" width="1.5" height="1.5" fill="#2323c8"/>
<rect x="95.25" y="385.25" width="1.5" height="1.5" fill="#2323c8"/>
<rect x="95.75" y="390.25" width="1.5" height="1.5" fill="#2323c8"/>
<rect x="96.25" y="393.25" width="1.5" height="1.5" fill="#2323c8"/>
<rect x="108.25" y="384.25" width="1.5" height="1.5" fill="#2323c8"/>
<rect x="108.75" y="388.25" width="1.5" height="1.5" fill="#2323c8"/>
<rect x="119.75" y="380.25" width="1.5" height="1.5" fill="#2323c8"/>
<rect x="119.75" y="385.25" width="1.5" height="1.5" fill="#2323c8"/>
<rect x="123.25" y="384.25" width="1.5" height="1.5" fill="#2323c8"/>
<rect x="123.75" y="389.25" width="1.5" height="1.5" fill="#2323c8"/>
<rect x="124.25" y="386.25" width="1.5" height="1.5" fill="#2323c8"/>
<rect x="139.45" y="383.25" width="1.5" height="1.5" fill="#2323c8"/>
<rect x="143.25" y="379.25" width="1.5" height="1.5" fill="#2323c8"/>
<rect x="146.25" y="383.25" width="1.5" height="1.5" fill="#2323c8"/>
<rect x="148.75" y="386.25" width="1.5" height="1.5" fill="#2323c8"/>
<rect x="178.75" y="383.25" width="1.5" height="1.5" fill="#2323c8"/>
<rect x="183.75" y="383.25" width="1.5" height="1.5" fill="#2323c8"/>
<rect x="183.75" y="388.25" width="1.5" height="1.5" fill="#2323c8"/>
<rect x="190.25" y="382.25" width="1.5" height="1.5" fill="#2323c8"/>
<rect x="191.25" y="387.25" width="1.5" height="1.5" fill="#2323c8"/>
<rect x="190.75" y="390.25" width="1.5" height="1.5" fill="#2323c8"/>
<rect x="198.75" y="385.25" width="1.5" height="1.5" fill="#2323c8"/>
<rect x="199.25" y="381.25" width="1.5" height="1.5" fill="#2323c8"/>
<rect x="200.25" y="385.25" width="1.5" height="1.5" fill="#2323c8"/>
<rect x="224.75" y="386.45" width="1.5" height="1.5" fill="#2323c8"/>
<rect x="229.45" y="384.25" width="1.5" height="1.5" fill="#2323c8"/>
<rect x="235.55" y="384.25" width="1.5" height="1.5" fill="#2323c8"/>
<rect x="235.55" y="387.25" width="1.5" height="1.5" fill="#2323c8"/>
<rect x="241.75" y="383.25" width="1.5" height="1.5" fill="#2323c8"/>
<rect x="242.25" y="380.25" width="1.5" height="1.5" fill="#2323c8"/>
<rect x="247.25" y="377.25" width="1.5" height="1.5" fill="#2323c8"/>
<rect x="247.25" y="382.25" width="1.5" height="1.5" fill="#2323c8"/>
<rect x="254.25" y="387.25" width="1.5" height="1.5" fill="#2323c8"/>
<rect x="255.25" y="391.25" width="1.5" height="1.5" fill="#2323c8"/>
<rect x="261.55" y="387.25" width="1.5" height="1.5" fill="#2323c8"/>
<rect x="262.25" y="383.25" width="1.5" height="1.5" fill="#2323c8"/>
<rect x="263.75" y="394.25" width="1.5" height="1.5" fill="#2323c8"/>
<rect x="270.45" y="393.25" width="1.5" height="1.5" fill="#2323c8"/>
<rect x="270.45" y="396.25" width="1.5" height="1.5" fill="#2323c8"/>
<rect x="275.25" y="392.25" width="1.5" height="1.5" fill="#2323c8"/>
<rect x="285.15" y="390.75" width="1.5" height="1.5" fill="#2323c8"/>
<rect x="290.85" y="391.45" width="1.5" height="1.5" fill="#2323c8"/>
<rect x="294.25" y="383.25" width="1.5" height="1.5" fill="#2323c8"/>
<rect x="295.25" y="387.25" width="1.5" height="1.5" fill="#2323c8"/>
<rect x="298.75" y="381.25" width="1.5" height="1.5" fill="#2323c8"/>
<rect x="299.75" y="385.25" width="1.5" height="1.5" fill="#2323c8"/>
<rect x="298.25" y="388.25" width="1.5" height="1.5" fill="#2323c8"/>
<rect x="300.75" y="383.25" width="1.5" height="1.5" fill="#2323c8"/>
<rect x="303.75" y="383.25" width="1.5" height="1.5" fill="#2323c8"/>
<rect x="303.75" y="387.25" width="1.5" height="1.5" fill="#2323c8"/>
<rect x="318.05" y="375.05" width="1.5" height="1.5" fill="#2323c8"/>
<rect x="318.05" y="383.65" width="1.5" height="1.5" fill="#2323c8"/>
<rect x="313.75" y="389.14" width="1.5" height="1.5" fill="#2323c8"/>
<path d="M39.5 302H79.5" stroke="#e05a3e" stroke-width="1.2"/>
<path d="M59.5 291.1V312.3" stroke="#e05a3e" stroke-width="0.85"/>
<rect x="57.35" y="299.85" width="4.3" height="4.3" fill="none" stroke="#5a2418" stroke-width="0.8"/>
<path d="M39.5 389.1H79.5" stroke="#2323c8" stroke-width="1.2"/>
<rect x="57.3" y="386.9" width="4.4" height="4.4" fill="none" stroke="#18184a" stroke-width="0.9"/>
<path d="M79.5 295.1H119.5" stroke="#e05a3e" stroke-width="1.2"/>
<path d="M99.5 286.5V303.7" stroke="#e05a3e" stroke-width="0.85"/>
<rect x="97.35" y="292.95" width="4.3" height="4.3" fill="none" stroke="#5a2418" stroke-width="0.8"/>
<path d="M79.5 388.3H119.5" stroke="#2323c8" stroke-width="1.2"/>
<rect x="97.3" y="386.1" width="4.4" height="4.4" fill="none" stroke="#18184a" stroke-width="0.9"/>
<path d="M119.5 331.3H159.5" stroke="#e05a3e" stroke-width="1.2"/>
<path d="M139.5 320.3V340.4" stroke="#e05a3e" stroke-width="0.85"/>
<rect x="137.35" y="329.15" width="4.3" height="4.3" fill="none" stroke="#5a2418" stroke-width="0.8"/>
<path d="M119.5 384.4H159.5" stroke="#2323c8" stroke-width="1.2"/>
<rect x="137.3" y="382.2" width="4.4" height="4.4" fill="none" stroke="#18184a" stroke-width="0.9"/>
<path d="M159.5 312H199.5" stroke="#e05a3e" stroke-width="1.2"/>
<path d="M179.5 305.8V321.5" stroke="#e05a3e" stroke-width="0.85"/>
<rect x="177.35" y="309.85" width="4.3" height="4.3" fill="none" stroke="#5a2418" stroke-width="0.8"/>
<path d="M159.5 385.1H199.5" stroke="#2323c8" stroke-width="1.2"/>
<rect x="177.3" y="382.9" width="4.4" height="4.4" fill="none" stroke="#18184a" stroke-width="0.9"/>
<path d="M199.5 320.1H239.5" stroke="#e05a3e" stroke-width="1.2"/>
<path d="M219.5 310.8V328.7" stroke="#e05a3e" stroke-width="0.85"/>
<rect x="217.35" y="317.95" width="4.3" height="4.3" fill="none" stroke="#5a2418" stroke-width="0.8"/>
<path d="M199.5 384.4H239.5" stroke="#2323c8" stroke-width="1.2"/>
<rect x="217.3" y="382.2" width="4.4" height="4.4" fill="none" stroke="#18184a" stroke-width="0.9"/>
<path d="M239.5 318.7H279.5" stroke="#e05a3e" stroke-width="1.2"/>
<path d="M259.5 310.1V326.6" stroke="#e05a3e" stroke-width="0.85"/>
<rect x="257.35" y="316.55" width="4.3" height="4.3" fill="none" stroke="#5a2418" stroke-width="0.8"/>
<path d="M239.5 388.7H279.5" stroke="#2323c8" stroke-width="1.2"/>
<rect x="257.3" y="386.5" width="4.4" height="4.4" fill="none" stroke="#18184a" stroke-width="0.9"/>
<path d="M279.5 322.7H319.5" stroke="#e05a3e" stroke-width="1.2"/>
<path d="M299.5 313V332" stroke="#e05a3e" stroke-width="0.85"/>
<rect x="297.35" y="320.55" width="4.3" height="4.3" fill="none" stroke="#5a2418" stroke-width="0.8"/>
<path d="M279.5 385.1H319.5" stroke="#2323c8" stroke-width="1.2"/>
<rect x="297.3" y="382.9" width="4.4" height="4.4" fill="none" stroke="#18184a" stroke-width="0.9"/>
<path d="M39.5 424.7v-4M39.5 242.5v4M43.5 424.7v-2.1M43.5 242.5v2.1M47.5 424.7v-2.1M47.5 242.5v2.1M51.5 424.7v-2.1M51.5 242.5v2.1M55.5 424.7v-2.1M55.5 242.5v2.1M59.5 424.7v-2.1M59.5 242.5v2.1M63.5 424.7v-2.1M63.5 242.5v2.1M67.5 424.7v-2.1M67.5 242.5v2.1M71.5 424.7v-2.1M71.5 242.5v2.1M75.5 424.7v-2.1M75.5 242.5v2.1M79.5 424.7v-4M79.5 242.5v4M83.5 424.7v-2.1M83.5 242.5v2.1M87.5 424.7v-2.1M87.5 242.5v2.1M91.5 424.7v-2.1M91.5 242.5v2.1M95.5 424.7v-2.1M95.5 242.5v2.1M99.5 424.7v-2.1M99.5 242.5v2.1M103.5 424.7v-2.1M103.5 242.5v2.1M107.5 424.7v-2.1M107.5 242.5v2.1M111.5 424.7v-2.1M111.5 242.5v2.1M115.5 424.7v-2.1M115.5 242.5v2.1M119.5 424.7v-4M119.5 242.5v4M123.5 424.7v-2.1M123.5 242.5v2.1M127.5 424.7v-2.1M127.5 242.5v2.1M131.5 424.7v-2.1M131.5 242.5v2.1M135.5 424.7v-2.1M135.5 242.5v2.1M139.5 424.7v-2.1M139.5 242.5v2.1M143.5 424.7v-2.1M143.5 242.5v2.1M147.5 424.7v-2.1M147.5 242.5v2.1M151.5 424.7v-2.1M151.5 242.5v2.1M155.5 424.7v-2.1M155.5 242.5v2.1M159.5 424.7v-4M159.5 242.5v4M163.5 424.7v-2.1M163.5 242.5v2.1M167.5 424.7v-2.1M167.5 242.5v2.1M171.5 424.7v-2.1M171.5 242.5v2.1M175.5 424.7v-2.1M175.5 242.5v2.1M179.5 424.7v-2.1M179.5 242.5v2.1M183.5 424.7v-2.1M183.5 242.5v2.1M187.5 424.7v-2.1M187.5 242.5v2.1M191.5 424.7v-2.1M191.5 242.5v2.1M195.5 424.7v-2.1M195.5 242.5v2.1M199.5 424.7v-4M199.5 242.5v4M203.5 424.7v-2.1M203.5 242.5v2.1M207.5 424.7v-2.1M207.5 242.5v2.1M211.5 424.7v-2.1M211.5 242.5v2.1M215.5 424.7v-2.1M215.5 242.5v2.1M219.5 424.7v-2.1M219.5 242.5v2.1M223.5 424.7v-2.1M223.5 242.5v2.1M227.5 424.7v-2.1M227.5 242.5v2.1M231.5 424.7v-2.1M231.5 242.5v2.1M235.5 424.7v-2.1M235.5 242.5v2.1M239.5 424.7v-4M239.5 242.5v4M243.5 424.7v-2.1M243.5 242.5v2.1M247.5 424.7v-2.1M247.5 242.5v2.1M251.5 424.7v-2.1M251.5 242.5v2.1M255.5 424.7v-2.1M255.5 242.5v2.1M259.5 424.7v-2.1M259.5 242.5v2.1M263.5 424.7v-2.1M263.5 242.5v2.1M267.5 424.7v-2.1M267.5 242.5v2.1M271.5 424.7v-2.1M271.5 242.5v2.1M275.5 424.7v-2.1M275.5 242.5v2.1M279.5 424.7v-4M279.5 242.5v4M283.5 424.7v-2.1M283.5 242.5v2.1M287.5 424.7v-2.1M287.5 242.5v2.1M291.5 424.7v-2.1M291.5 242.5v2.1M295.5 424.7v-2.1M295.5 242.5v2.1M299.5 424.7v-2.1M299.5 242.5v2.1M303.5 424.7v-2.1M303.5 242.5v2.1M307.5 424.7v-2.1M307.5 242.5v2.1M311.5 424.7v-2.1M311.5 242.5v2.1M315.5 424.7v-2.1M315.5 242.5v2.1M319.5 424.7v-4M319.5 242.5v4M39.5 424.7h5.5M319.5 424.7h-5.5M39.5 417.41h3M319.5 417.41h-3M39.5 410.12h3M319.5 410.12h-3M39.5 402.84h3M319.5 402.84h-3M39.5 395.55h3M319.5 395.55h-3M39.5 388.26h5.5M319.5 388.26h-5.5M39.5 380.97h3M319.5 380.97h-3M39.5 373.68h3M319.5 373.68h-3M39.5 366.4h3M319.5 366.4h-3M39.5 359.11h3M319.5 359.11h-3M39.5 351.82h5.5M319.5 351.82h-5.5M39.5 344.53h3M319.5 344.53h-3M39.5 337.24h3M319.5 337.24h-3M39.5 329.96h3M319.5 329.96h-3M39.5 322.67h3M319.5 322.67h-3M39.5 315.38h5.5M319.5 315.38h-5.5M39.5 308.09h3M319.5 308.09h-3M39.5 300.8h3M319.5 300.8h-3M39.5 293.52h3M319.5 293.52h-3M39.5 286.23h3M319.5 286.23h-3M39.5 278.94h5.5M319.5 278.94h-5.5M39.5 271.65h3M319.5 271.65h-3M39.5 264.36h3M319.5 264.36h-3M39.5 257.08h3M319.5 257.08h-3M39.5 249.79h3M319.5 249.79h-3M39.5 242.5h5.5M319.5 242.5h-5.5" stroke="#111" stroke-width="0.9" fill="none"/>
<rect x="39.5" y="242.5" width="280" height="182.2" fill="none" stroke="#111" stroke-width="1.05"/>
<text transform="translate(35.6 428.4) scale(1 1.02)" text-anchor="end">0</text>
<text transform="translate(35.6 391.96) scale(1 1.02)" text-anchor="end">50</text>
<text transform="translate(35.6 355.52) scale(1 1.02)" text-anchor="end">100</text>
<text transform="translate(35.6 319.08) scale(1 1.02)" text-anchor="end">150</text>
<text transform="translate(35.6 282.64) scale(1 1.02)" text-anchor="end">200</text>
<text transform="translate(35.6 246.2) scale(1 1.02)" text-anchor="end">250</text>
<text transform="translate(39.5 436.6) scale(1 1.02)" text-anchor="middle">32</text>
<text transform="translate(79.5 436.6) scale(1 1.02)" text-anchor="middle">33</text>
<text transform="translate(119.5 436.6) scale(1 1.02)" text-anchor="middle">34</text>
<text transform="translate(159.5 436.6) scale(1 1.02)" text-anchor="middle">35</text>
<text transform="translate(199.5 436.6) scale(1 1.02)" text-anchor="middle">36</text>
<text transform="translate(239.5 436.6) scale(1 1.02)" text-anchor="middle">37</text>
<text transform="translate(279.5 436.6) scale(1 1.02)" text-anchor="middle">38</text>
<text transform="translate(319.5 436.6) scale(1 1.02)" text-anchor="middle">39</text>
<text transform="translate(179.5 450.5) scale(1 1.02)" text-anchor="middle">Frequency (MHz)</text>
<text transform="translate(9.6 333.6) rotate(-90) scale(1 1.02)" text-anchor="middle">Expansion rate (arcmin<tspan dy="-3.2" font-size="6.6">2</tspan><tspan dy="3.2"> s</tspan><tspan dy="-3.2" font-size="6.6">−1</tspan><tspan dy="3.2">)</tspan></text>
<rect x="62.9" y="590.4" width="4.2" height="28" fill="#c0c0c0"/>
<rect x="94.9" y="561" width="2.9" height="44.5" fill="#b4b4b4"/>
<rect x="107.6" y="596" width="3.3" height="31.7" fill="#c0c0c0"/>
<rect x="123.2" y="598.6" width="2" height="42.4" fill="#b8b8b8"/>
<rect x="183" y="595" width="2" height="30" fill="#c4c4c4"/>
<rect x="189.8" y="602.4" width="2.8" height="27.4" fill="#bcbcbc"/>
<rect x="199" y="596.9" width="2.8" height="21.9" fill="#bcbcbc"/>
<rect x="241.2" y="586.2" width="1.8" height="55.5" fill="#cccccc"/>
<rect x="295" y="584.8" width="1.4" height="39.8" fill="#c0c0c0"/>
<rect x="298.4" y="596.5" width="3" height="47.3" fill="#bcbcbc"/>
<path d="M45.3 596.2V625.4" stroke="#8c8c8c" stroke-width="1.0"/>
<path d="M57.8 581.6V638.3" stroke="#c4c4c4" stroke-width="1.0"/>
<path d="M64.4 572.9V629" stroke="#a8a8a8" stroke-width="1.0"/>
<path d="M66.5 572.9V629" stroke="#a8a8a8" stroke-width="1.0"/>
<path d="M63.6 590V620" stroke="#c4c4c4" stroke-width="1.0"/>
<path d="M77.4 564.7V627.8" stroke="#c4c4c4" stroke-width="1.0"/>
<path d="M78.5 564.5V616.7" stroke="#c4c4c4" stroke-width="1.0"/>
<path d="M80.5 574V602" stroke="#c4c4c4" stroke-width="1.0"/>
<path d="M82.6 599V645" stroke="#a8a8a8" stroke-width="1.0"/>
<path d="M95.6 555.5V606" stroke="#a8a8a8" stroke-width="1.0"/>
<path d="M96.4 555.5V605.5" stroke="#8c8c8c" stroke-width="1.0"/>
<path d="M110.5 584V637.4" stroke="#a8a8a8" stroke-width="1.0"/>
<path d="M108.5 596V630" stroke="#a8a8a8" stroke-width="1.0"/>
<path d="M120.7 603.5V639.8" stroke="#a8a8a8" stroke-width="1.0"/>
<path d="M123.8 598.6V641" stroke="#a8a8a8" stroke-width="1.0"/>
<path d="M124.6 598.6V641" stroke="#8c8c8c" stroke-width="1.0"/>
<path d="M140.1 602.9V629.4" stroke="#a8a8a8" stroke-width="1.0"/>
<path d="M144 619.5V650" stroke="#c4c4c4" stroke-width="1.0"/>
<path d="M146.5 610.3V636.8" stroke="#c4c4c4" stroke-width="1.0"/>
<path d="M149.2 607.2V641.7" stroke="#a8a8a8" stroke-width="1.0"/>
<path d="M179.3 594.7V628.7" stroke="#8c8c8c" stroke-width="1.0"/>
<path d="M183.6 588.7V635.8" stroke="#a8a8a8" stroke-width="1.0"/>
<path d="M184.4 590V630" stroke="#c4c4c4" stroke-width="1.0"/>
<path d="M190.4 600.7V640.7" stroke="#a8a8a8" stroke-width="1.0"/>
<path d="M191.6 597.5V640.7" stroke="#a8a8a8" stroke-width="1.0"/>
<path d="M192.2 603V632" stroke="#c4c4c4" stroke-width="1.0"/>
<path d="M199.4 583.2V621" stroke="#a8a8a8" stroke-width="1.0"/>
<path d="M200.6 590V621" stroke="#a8a8a8" stroke-width="1.0"/>
<path d="M201.5 597V619" stroke="#c4c4c4" stroke-width="1.0"/>
<path d="M225.3 604V629.6" stroke="#c4c4c4" stroke-width="1.0"/>
<path d="M229.5 622.4V647.4" stroke="#c4c4c4" stroke-width="1.0"/>
<path d="M236 602V637.7" stroke="#a8a8a8" stroke-width="1.0"/>
<path d="M241.8 586.2V641.7" stroke="#a8a8a8" stroke-width="1.0"/>
<path d="M242.6 586.2V641.7" stroke="#a8a8a8" stroke-width="1.0"/>
<path d="M247.9 603.8V631.6" stroke="#c4c4c4" stroke-width="1.0"/>
<path d="M254.9 588.3V629.5" stroke="#a8a8a8" stroke-width="1.0"/>
<path d="M256.1 592V629.5" stroke="#a8a8a8" stroke-width="1.0"/>
<path d="M261.8 596.4V633.6" stroke="#a8a8a8" stroke-width="1.0"/>
<path d="M263 599V633.6" stroke="#c4c4c4" stroke-width="1.0"/>
<path d="M264.2 596.4V625" stroke="#a8a8a8" stroke-width="1.0"/>
<path d="M270.5 591.7V625.5" stroke="#a8a8a8" stroke-width="1.0"/>
<path d="M274.6 576.8V614.7" stroke="#8c8c8c" stroke-width="1.0"/>
<path d="M275.9 601.8V634.3" stroke="#c4c4c4" stroke-width="1.0"/>
<path d="M285.8 562.9V643.8" stroke="#c4c4c4" stroke-width="1.0"/>
<path d="M285.9 591V643.8" stroke="#a8a8a8" stroke-width="1.0"/>
<path d="M291.3 574.5V616.4" stroke="#c4c4c4" stroke-width="1.0"/>
<path d="M295.2 584.8V624.6" stroke="#a8a8a8" stroke-width="1.0"/>
<path d="M296.1 584.8V624.6" stroke="#a8a8a8" stroke-width="1.0"/>
<path d="M298.9 596.5V643.8" stroke="#a8a8a8" stroke-width="1.0"/>
<path d="M300.2 596.5V643.8" stroke="#a8a8a8" stroke-width="1.0"/>
<path d="M301.1 605V640" stroke="#c4c4c4" stroke-width="1.0"/>
<path d="M304 606V632.1" stroke="#c4c4c4" stroke-width="1.0"/>
<path d="M314.2 613.6V643.8" stroke="#c4c4c4" stroke-width="1.0"/>
<path d="M317.6 610.9V633" stroke="#a8a8a8" stroke-width="1.0"/>
<path d="M318.6 618V632.8" stroke="#a8a8a8" stroke-width="1.0"/>
<rect x="44.65" y="609.35" width="1.3" height="1.3" fill="#111"/>
<rect x="44.65" y="618.15" width="1.3" height="1.3" fill="#111"/>
<rect x="57.15" y="616.05" width="1.3" height="1.3" fill="#111"/>
<rect x="63.75" y="593.85" width="1.3" height="1.3" fill="#111"/>
<rect x="63.75" y="606.85" width="1.3" height="1.3" fill="#111"/>
<rect x="65.85" y="594.35" width="1.3" height="1.3" fill="#111"/>
<rect x="65.85" y="607.35" width="1.3" height="1.3" fill="#111"/>
<rect x="65.85" y="609.85" width="1.3" height="1.3" fill="#111"/>
<rect x="65.85" y="612.85" width="1.3" height="1.3" fill="#111"/>
<rect x="62.95" y="612.85" width="1.3" height="1.3" fill="#111"/>
<rect x="76.75" y="585.65" width="1.3" height="1.3" fill="#111"/>
<rect x="76.75" y="596.75" width="1.3" height="1.3" fill="#111"/>
<rect x="76.75" y="608.95" width="1.3" height="1.3" fill="#111"/>
<rect x="77.85" y="596.05" width="1.3" height="1.3" fill="#111"/>
<rect x="79.85" y="594.35" width="1.3" height="1.3" fill="#111"/>
<rect x="81.95" y="616.05" width="1.3" height="1.3" fill="#111"/>
<rect x="81.95" y="627.55" width="1.3" height="1.3" fill="#111"/>
<rect x="94.95" y="574.35" width="1.3" height="1.3" fill="#111"/>
<rect x="94.95" y="588.85" width="1.3" height="1.3" fill="#111"/>
<rect x="95.75" y="576.35" width="1.3" height="1.3" fill="#111"/>
<rect x="95.75" y="578.35" width="1.3" height="1.3" fill="#111"/>
<rect x="95.75" y="589.55" width="1.3" height="1.3" fill="#111"/>
<rect x="109.85" y="599.35" width="1.3" height="1.3" fill="#111"/>
<rect x="109.85" y="607.65" width="1.3" height="1.3" fill="#111"/>
<rect x="109.85" y="610.65" width="1.3" height="1.3" fill="#111"/>
<rect x="109.85" y="612.95" width="1.3" height="1.3" fill="#111"/>
<rect x="109.85" y="616.05" width="1.3" height="1.3" fill="#111"/>
<rect x="109.85" y="623.75" width="1.3" height="1.3" fill="#111"/>
<rect x="107.85" y="608.35" width="1.3" height="1.3" fill="#111"/>
<rect x="120.05" y="615.15" width="1.3" height="1.3" fill="#111"/>
<rect x="120.05" y="618.85" width="1.3" height="1.3" fill="#111"/>
<rect x="120.05" y="625.65" width="1.3" height="1.3" fill="#111"/>
<rect x="123.15" y="614.85" width="1.3" height="1.3" fill="#111"/>
<rect x="123.95" y="615.85" width="1.3" height="1.3" fill="#111"/>
<rect x="123.95" y="625.65" width="1.3" height="1.3" fill="#111"/>
<rect x="139.45" y="615.15" width="1.3" height="1.3" fill="#111"/>
<rect x="143.35" y="627.55" width="1.3" height="1.3" fill="#111"/>
<rect x="143.35" y="640.35" width="1.3" height="1.3" fill="#111"/>
<rect x="145.85" y="621.95" width="1.3" height="1.3" fill="#111"/>
<rect x="148.55" y="618.85" width="1.3" height="1.3" fill="#111"/>
<rect x="148.55" y="624.35" width="1.3" height="1.3" fill="#111"/>
<rect x="148.55" y="626.35" width="1.3" height="1.3" fill="#111"/>
<rect x="178.65" y="608.35" width="1.3" height="1.3" fill="#111"/>
<rect x="182.95" y="600.65" width="1.3" height="1.3" fill="#111"/>
<rect x="183.75" y="607.75" width="1.3" height="1.3" fill="#111"/>
<rect x="183.75" y="617.65" width="1.3" height="1.3" fill="#111"/>
<rect x="189.75" y="611.05" width="1.3" height="1.3" fill="#111"/>
<rect x="189.75" y="614.85" width="1.3" height="1.3" fill="#111"/>
<rect x="190.95" y="614.85" width="1.3" height="1.3" fill="#111"/>
<rect x="190.95" y="622.55" width="1.3" height="1.3" fill="#111"/>
<rect x="191.55" y="629.15" width="1.3" height="1.3" fill="#111"/>
<rect x="198.75" y="595.75" width="1.3" height="1.3" fill="#111"/>
<rect x="198.75" y="603.95" width="1.3" height="1.3" fill="#111"/>
<rect x="199.95" y="607.25" width="1.3" height="1.3" fill="#111"/>
<rect x="199.95" y="608.35" width="1.3" height="1.3" fill="#111"/>
<rect x="200.85" y="611.55" width="1.3" height="1.3" fill="#111"/>
<rect x="224.65" y="616.55" width="1.3" height="1.3" fill="#111"/>
<rect x="228.85" y="633.55" width="1.3" height="1.3" fill="#111"/>
<rect x="228.85" y="637.55" width="1.3" height="1.3" fill="#111"/>
<rect x="235.35" y="618.45" width="1.3" height="1.3" fill="#111"/>
<rect x="235.35" y="624.85" width="1.3" height="1.3" fill="#111"/>
<rect x="241.15" y="605.25" width="1.3" height="1.3" fill="#111"/>
<rect x="241.95" y="622.15" width="1.3" height="1.3" fill="#111"/>
<rect x="247.25" y="617.35" width="1.3" height="1.3" fill="#111"/>
<rect x="254.25" y="603.15" width="1.3" height="1.3" fill="#111"/>
<rect x="255.45" y="610.65" width="1.3" height="1.3" fill="#111"/>
<rect x="261.15" y="608.55" width="1.3" height="1.3" fill="#111"/>
<rect x="262.35" y="609.95" width="1.3" height="1.3" fill="#111"/>
<rect x="263.55" y="618.05" width="1.3" height="1.3" fill="#111"/>
<rect x="269.85" y="605.35" width="1.3" height="1.3" fill="#111"/>
<rect x="269.85" y="606.55" width="1.3" height="1.3" fill="#111"/>
<rect x="269.85" y="609.35" width="1.3" height="1.3" fill="#111"/>
<rect x="273.95" y="595.05" width="1.3" height="1.3" fill="#111"/>
<rect x="275.25" y="617.35" width="1.3" height="1.3" fill="#111"/>
<rect x="285.15" y="603.65" width="1.3" height="1.3" fill="#111"/>
<rect x="290.65" y="595.85" width="1.3" height="1.3" fill="#111"/>
<rect x="294.55" y="600.65" width="1.3" height="1.3" fill="#111"/>
<rect x="294.55" y="609.55" width="1.3" height="1.3" fill="#111"/>
<rect x="295.45" y="601.35" width="1.3" height="1.3" fill="#111"/>
<rect x="295.45" y="613.65" width="1.3" height="1.3" fill="#111"/>
<rect x="298.25" y="611.95" width="1.3" height="1.3" fill="#111"/>
<rect x="298.25" y="619.25" width="1.3" height="1.3" fill="#111"/>
<rect x="298.25" y="626.55" width="1.3" height="1.3" fill="#111"/>
<rect x="299.55" y="623.55" width="1.3" height="1.3" fill="#111"/>
<rect x="299.55" y="630.85" width="1.3" height="1.3" fill="#111"/>
<rect x="299.55" y="633.35" width="1.3" height="1.3" fill="#111"/>
<rect x="300.45" y="621.35" width="1.3" height="1.3" fill="#111"/>
<rect x="303.35" y="618.45" width="1.3" height="1.3" fill="#111"/>
<rect x="313.55" y="628.05" width="1.3" height="1.3" fill="#111"/>
<rect x="316.95" y="622.35" width="1.3" height="1.3" fill="#111"/>
<rect x="316.95" y="625.85" width="1.3" height="1.3" fill="#111"/>
<rect x="317.95" y="628.35" width="1.3" height="1.3" fill="#111"/>
<path d="M39.5 604.2H79.5" stroke="#e05a3e" stroke-width="1.05"/>
<path d="M59.5 599.8V608.6" stroke="#e05a3e" stroke-width="1.0"/>
<rect x="57.3" y="602" width="4.4" height="4.4" fill="none" stroke="#5a2010" stroke-width="0.8"/>
<path d="M79.5 602.7H119.5" stroke="#e05a3e" stroke-width="1.05"/>
<path d="M99.5 598.3V607.1" stroke="#e05a3e" stroke-width="1.0"/>
<rect x="97.3" y="600.5" width="4.4" height="4.4" fill="none" stroke="#5a2010" stroke-width="0.8"/>
<path d="M119.5 621.6H159.5" stroke="#e05a3e" stroke-width="1.05"/>
<path d="M139.5 617.2V626" stroke="#e05a3e" stroke-width="1.0"/>
<rect x="137.3" y="619.4" width="4.4" height="4.4" fill="none" stroke="#5a2010" stroke-width="0.8"/>
<path d="M159.5 613.4H199.5" stroke="#e05a3e" stroke-width="1.05"/>
<path d="M179.5 609V617.8" stroke="#e05a3e" stroke-width="1.0"/>
<rect x="177.3" y="611.2" width="4.4" height="4.4" fill="none" stroke="#5a2010" stroke-width="0.8"/>
<path d="M199.5 617.2H239.5" stroke="#e05a3e" stroke-width="1.05"/>
<path d="M219.5 612.8V621.6" stroke="#e05a3e" stroke-width="1.0"/>
<rect x="217.3" y="615" width="4.4" height="4.4" fill="none" stroke="#5a2010" stroke-width="0.8"/>
<path d="M239.5 611.3H279.5" stroke="#e05a3e" stroke-width="1.05"/>
<path d="M259.5 606.9V615.7" stroke="#e05a3e" stroke-width="1.0"/>
<rect x="257.3" y="609.1" width="4.4" height="4.4" fill="none" stroke="#5a2010" stroke-width="0.8"/>
<path d="M279.5 617.2H319.5" stroke="#e05a3e" stroke-width="1.05"/>
<path d="M299.5 612.8V621.6" stroke="#e05a3e" stroke-width="1.0"/>
<rect x="297.3" y="615" width="4.4" height="4.4" fill="none" stroke="#5a2010" stroke-width="0.8"/>
<path d="M39.5 657v-4M39.5 474.5v4M43.5 657v-2.1M43.5 474.5v2.1M47.5 657v-2.1M47.5 474.5v2.1M51.5 657v-2.1M51.5 474.5v2.1M55.5 657v-2.1M55.5 474.5v2.1M59.5 657v-2.1M59.5 474.5v2.1M63.5 657v-2.1M63.5 474.5v2.1M67.5 657v-2.1M67.5 474.5v2.1M71.5 657v-2.1M71.5 474.5v2.1M75.5 657v-2.1M75.5 474.5v2.1M79.5 657v-4M79.5 474.5v4M83.5 657v-2.1M83.5 474.5v2.1M87.5 657v-2.1M87.5 474.5v2.1M91.5 657v-2.1M91.5 474.5v2.1M95.5 657v-2.1M95.5 474.5v2.1M99.5 657v-2.1M99.5 474.5v2.1M103.5 657v-2.1M103.5 474.5v2.1M107.5 657v-2.1M107.5 474.5v2.1M111.5 657v-2.1M111.5 474.5v2.1M115.5 657v-2.1M115.5 474.5v2.1M119.5 657v-4M119.5 474.5v4M123.5 657v-2.1M123.5 474.5v2.1M127.5 657v-2.1M127.5 474.5v2.1M131.5 657v-2.1M131.5 474.5v2.1M135.5 657v-2.1M135.5 474.5v2.1M139.5 657v-2.1M139.5 474.5v2.1M143.5 657v-2.1M143.5 474.5v2.1M147.5 657v-2.1M147.5 474.5v2.1M151.5 657v-2.1M151.5 474.5v2.1M155.5 657v-2.1M155.5 474.5v2.1M159.5 657v-4M159.5 474.5v4M163.5 657v-2.1M163.5 474.5v2.1M167.5 657v-2.1M167.5 474.5v2.1M171.5 657v-2.1M171.5 474.5v2.1M175.5 657v-2.1M175.5 474.5v2.1M179.5 657v-2.1M179.5 474.5v2.1M183.5 657v-2.1M183.5 474.5v2.1M187.5 657v-2.1M187.5 474.5v2.1M191.5 657v-2.1M191.5 474.5v2.1M195.5 657v-2.1M195.5 474.5v2.1M199.5 657v-4M199.5 474.5v4M203.5 657v-2.1M203.5 474.5v2.1M207.5 657v-2.1M207.5 474.5v2.1M211.5 657v-2.1M211.5 474.5v2.1M215.5 657v-2.1M215.5 474.5v2.1M219.5 657v-2.1M219.5 474.5v2.1M223.5 657v-2.1M223.5 474.5v2.1M227.5 657v-2.1M227.5 474.5v2.1M231.5 657v-2.1M231.5 474.5v2.1M235.5 657v-2.1M235.5 474.5v2.1M239.5 657v-4M239.5 474.5v4M243.5 657v-2.1M243.5 474.5v2.1M247.5 657v-2.1M247.5 474.5v2.1M251.5 657v-2.1M251.5 474.5v2.1M255.5 657v-2.1M255.5 474.5v2.1M259.5 657v-2.1M259.5 474.5v2.1M263.5 657v-2.1M263.5 474.5v2.1M267.5 657v-2.1M267.5 474.5v2.1M271.5 657v-2.1M271.5 474.5v2.1M275.5 657v-2.1M275.5 474.5v2.1M279.5 657v-4M279.5 474.5v4M283.5 657v-2.1M283.5 474.5v2.1M287.5 657v-2.1M287.5 474.5v2.1M291.5 657v-2.1M291.5 474.5v2.1M295.5 657v-2.1M295.5 474.5v2.1M299.5 657v-2.1M299.5 474.5v2.1M303.5 657v-2.1M303.5 474.5v2.1M307.5 657v-2.1M307.5 474.5v2.1M311.5 657v-2.1M311.5 474.5v2.1M315.5 657v-2.1M315.5 474.5v2.1M319.5 657v-4M319.5 474.5v4M39.5 657h5.5M319.5 657h-5.5M39.5 649.4h3M319.5 649.4h-3M39.5 641.79h3M319.5 641.79h-3M39.5 634.19h3M319.5 634.19h-3M39.5 626.58h5.5M319.5 626.58h-5.5M39.5 618.98h3M319.5 618.98h-3M39.5 611.38h3M319.5 611.38h-3M39.5 603.77h3M319.5 603.77h-3M39.5 596.17h5.5M319.5 596.17h-5.5M39.5 588.56h3M319.5 588.56h-3M39.5 580.96h3M319.5 580.96h-3M39.5 573.35h3M319.5 573.35h-3M39.5 565.75h5.5M319.5 565.75h-5.5M39.5 558.15h3M319.5 558.15h-3M39.5 550.54h3M319.5 550.54h-3M39.5 542.94h3M319.5 542.94h-3M39.5 535.33h5.5M319.5 535.33h-5.5M39.5 527.73h3M319.5 527.73h-3M39.5 520.12h3M319.5 520.12h-3M39.5 512.52h3M319.5 512.52h-3M39.5 504.92h5.5M319.5 504.92h-5.5M39.5 497.31h3M319.5 497.31h-3M39.5 489.71h3M319.5 489.71h-3M39.5 482.1h3M319.5 482.1h-3M39.5 474.5h5.5M319.5 474.5h-5.5" stroke="#111" stroke-width="0.9" fill="none"/>
<rect x="39.5" y="474.5" width="280" height="182.5" fill="none" stroke="#111" stroke-width="1.05"/>
<text transform="translate(35.6 660.7) scale(1 1.02)" text-anchor="end">0</text>
<text transform="translate(35.6 630.28) scale(1 1.02)" text-anchor="end">2</text>
<text transform="translate(35.6 599.87) scale(1 1.02)" text-anchor="end">4</text>
<text transform="translate(35.6 569.45) scale(1 1.02)" text-anchor="end">6</text>
<text transform="translate(35.6 539.03) scale(1 1.02)" text-anchor="end">8</text>
<text transform="translate(35.6 508.62) scale(1 1.02)" text-anchor="end">10</text>
<text transform="translate(35.6 478.2) scale(1 1.02)" text-anchor="end">12</text>
<text transform="translate(39.5 668.9) scale(1 1.02)" text-anchor="middle">32</text>
<text transform="translate(79.5 668.9) scale(1 1.02)" text-anchor="middle">33</text>
<text transform="translate(119.5 668.9) scale(1 1.02)" text-anchor="middle">34</text>
<text transform="translate(159.5 668.9) scale(1 1.02)" text-anchor="middle">35</text>
<text transform="translate(199.5 668.9) scale(1 1.02)" text-anchor="middle">36</text>
<text transform="translate(239.5 668.9) scale(1 1.02)" text-anchor="middle">37</text>
<text transform="translate(279.5 668.9) scale(1 1.02)" text-anchor="middle">38</text>
<text transform="translate(319.5 668.9) scale(1 1.02)" text-anchor="middle">39</text>
<text transform="translate(179.5 682.8) scale(1 1.02)" text-anchor="middle">Frequency (MHz)</text>
<text transform="translate(15.9 565.6) rotate(-90) scale(1 1.02)" text-anchor="middle">Ratio</text>
</svg>
</body></html>
